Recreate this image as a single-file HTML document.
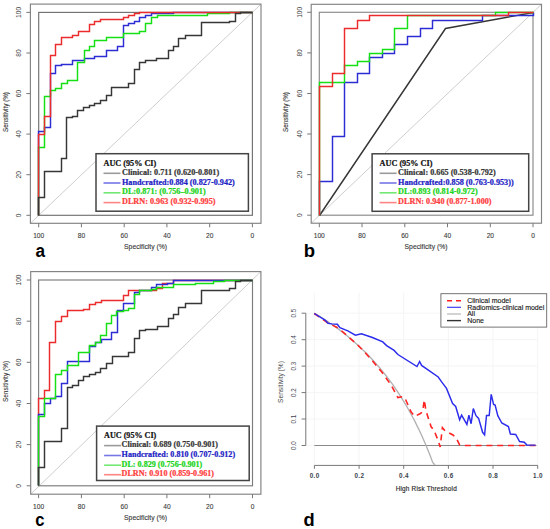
<!DOCTYPE html>
<html><head><meta charset="utf-8"><style>html,body{margin:0;padding:0;background:#fff;}svg{display:block;}</style></head>
<body><svg width="550" height="529" viewBox="0 0 550 529">
<rect width="550" height="529" fill="#fff"/>
<line x1="30.4" y1="223.3" x2="261.0" y2="4.1" stroke="#c8c8c8" stroke-width="0.9" />
<rect x="30.4" y="4.1" width="230.6" height="219.2" fill="none" stroke="#828282" stroke-width="1.15"/>
<rect x="38.7" y="12.4" width="213.7" height="202.9" fill="none" stroke="#707070" stroke-width="1.15"/>
<line x1="26.4" y1="215.3" x2="30.4" y2="215.3" stroke="#777" stroke-width="1.0" />
<text x="21.1" y="215.3" font-family="Liberation Sans" font-size="6.6" fill="#3a3a3a" text-anchor="middle" font-weight="normal" transform="rotate(-90 21.1 215.3)" >0</text>
<line x1="26.4" y1="174.7" x2="30.4" y2="174.7" stroke="#777" stroke-width="1.0" />
<text x="21.1" y="174.7" font-family="Liberation Sans" font-size="6.6" fill="#3a3a3a" text-anchor="middle" font-weight="normal" transform="rotate(-90 21.1 174.7)" >20</text>
<line x1="26.4" y1="134.1" x2="30.4" y2="134.1" stroke="#777" stroke-width="1.0" />
<text x="21.1" y="134.1" font-family="Liberation Sans" font-size="6.6" fill="#3a3a3a" text-anchor="middle" font-weight="normal" transform="rotate(-90 21.1 134.1)" >40</text>
<line x1="26.4" y1="93.6" x2="30.4" y2="93.6" stroke="#777" stroke-width="1.0" />
<text x="21.1" y="93.6" font-family="Liberation Sans" font-size="6.6" fill="#3a3a3a" text-anchor="middle" font-weight="normal" transform="rotate(-90 21.1 93.6)" >60</text>
<line x1="26.4" y1="53.0" x2="30.4" y2="53.0" stroke="#777" stroke-width="1.0" />
<text x="21.1" y="53.0" font-family="Liberation Sans" font-size="6.6" fill="#3a3a3a" text-anchor="middle" font-weight="normal" transform="rotate(-90 21.1 53.0)" >80</text>
<line x1="26.4" y1="12.4" x2="30.4" y2="12.4" stroke="#777" stroke-width="1.0" />
<text x="21.1" y="12.4" font-family="Liberation Sans" font-size="6.6" fill="#3a3a3a" text-anchor="middle" font-weight="normal" transform="rotate(-90 21.1 12.4)" >100</text>
<line x1="38.7" y1="223.3" x2="38.7" y2="227.3" stroke="#777" stroke-width="1.0" />
<text x="38.7" y="237.6" font-family="Liberation Sans" font-size="6.6" fill="#3a3a3a" text-anchor="middle" font-weight="normal" stroke="#3a3a3a" stroke-width="0.1">100</text>
<line x1="81.4" y1="223.3" x2="81.4" y2="227.3" stroke="#777" stroke-width="1.0" />
<text x="81.4" y="237.6" font-family="Liberation Sans" font-size="6.6" fill="#3a3a3a" text-anchor="middle" font-weight="normal" stroke="#3a3a3a" stroke-width="0.1">80</text>
<line x1="124.2" y1="223.3" x2="124.2" y2="227.3" stroke="#777" stroke-width="1.0" />
<text x="124.2" y="237.6" font-family="Liberation Sans" font-size="6.6" fill="#3a3a3a" text-anchor="middle" font-weight="normal" stroke="#3a3a3a" stroke-width="0.1">60</text>
<line x1="166.9" y1="223.3" x2="166.9" y2="227.3" stroke="#777" stroke-width="1.0" />
<text x="166.9" y="237.6" font-family="Liberation Sans" font-size="6.6" fill="#3a3a3a" text-anchor="middle" font-weight="normal" stroke="#3a3a3a" stroke-width="0.1">40</text>
<line x1="209.7" y1="223.3" x2="209.7" y2="227.3" stroke="#777" stroke-width="1.0" />
<text x="209.7" y="237.6" font-family="Liberation Sans" font-size="6.6" fill="#3a3a3a" text-anchor="middle" font-weight="normal" stroke="#3a3a3a" stroke-width="0.1">20</text>
<line x1="252.4" y1="223.3" x2="252.4" y2="227.3" stroke="#777" stroke-width="1.0" />
<text x="252.4" y="237.6" font-family="Liberation Sans" font-size="6.6" fill="#3a3a3a" text-anchor="middle" font-weight="normal" stroke="#3a3a3a" stroke-width="0.1">0</text>
<text x="7.6" y="112.0" font-family="Liberation Sans" font-size="6.3" fill="#333" text-anchor="middle" font-weight="normal" transform="rotate(-90 7.6 112.0)" stroke="#333" stroke-width="0.1">Sensitivity (%)</text>
<text x="145.6" y="249.3" font-family="Liberation Sans" font-size="6.8" fill="#333" text-anchor="middle" font-weight="normal" stroke="#333" stroke-width="0.1">Specificity (%)</text>
<polyline points="38.5,215.5 38.5,131.5 44.5,131.5 44.5,127.5 50.5,127.5 50.5,73.5 55.5,73.5 55.5,65.5 61.5,65.5 61.5,64.5 72.5,64.5 72.5,60.5 84.5,60.5 84.5,58.5 94.5,58.5 94.5,56.5 106.5,56.5 106.5,50.5 117.5,50.5 117.5,46.5 123.5,46.5 123.5,25.5 128.5,25.5 128.5,23.5 134.5,23.5 134.5,21.5 139.5,21.5 139.5,17.5 145.5,17.5 145.5,15.5 151.5,15.5 151.5,13.5 173.5,13.5 173.5,12.5 252.5,12.5" fill="none" stroke="#2c2cd4" stroke-width="1.45" stroke-linejoin="miter" />
<polyline points="38.5,215.5 38.5,147.5 44.5,147.5 44.5,96.5 50.5,96.5 50.5,90.5 55.5,90.5 55.5,88.5 61.5,88.5 61.5,83.5 67.5,83.5 67.5,80.5 77.5,80.5 77.5,62.5 84.5,62.5 84.5,50.5 89.5,50.5 89.5,46.5 94.5,46.5 94.5,40.5 106.5,40.5 106.5,37.5 123.5,37.5 123.5,33.5 139.5,33.5 139.5,31.5 145.5,31.5 145.5,23.5 151.5,23.5 151.5,17.5 157.5,17.5 157.5,15.5 207.5,15.5 207.5,13.5 229.5,13.5 229.5,12.5 252.5,12.5" fill="none" stroke="#14e014" stroke-width="1.45" stroke-linejoin="miter" />
<polyline points="38.5,215.5 38.5,134.5 44.5,134.5 44.5,116.5 50.5,116.5 50.5,55.5 55.5,55.5 55.5,44.5 61.5,44.5 61.5,37.5 72.5,37.5 72.5,35.5 78.5,35.5 78.5,31.5 89.5,31.5 89.5,24.5 94.5,24.5 94.5,21.5 100.5,21.5 100.5,19.5 123.5,19.5 123.5,17.5 128.5,17.5 128.5,15.5 134.5,15.5 134.5,13.5 139.5,13.5 139.5,12.5 252.5,12.5" fill="none" stroke="#ec2c2c" stroke-width="1.45" stroke-linejoin="miter" />
<polyline points="38.5,215.5 38.5,197.5 44.5,197.5 44.5,171.5 61.5,171.5 61.5,158.5 66.5,158.5 66.5,117.5 72.5,117.5 72.5,116.5 77.5,116.5 77.5,110.5 83.5,110.5 83.5,107.5 89.5,107.5 89.5,105.5 94.5,105.5 94.5,103.5 100.5,103.5 100.5,100.5 106.5,100.5 106.5,95.5 111.5,95.5 111.5,87.5 128.5,87.5 128.5,83.5 134.5,83.5 134.5,69.5 139.5,69.5 139.5,62.5 145.5,62.5 145.5,60.5 156.5,60.5 156.5,58.5 168.5,58.5 168.5,50.5 173.5,50.5 173.5,46.5 178.5,46.5 178.5,38.5 185.5,38.5 185.5,35.5 201.5,35.5 201.5,22.5 229.5,22.5 229.5,21.5 235.5,21.5 235.5,13.5 240.5,13.5 240.5,12.5 252.5,12.5" fill="none" stroke="#363636" stroke-width="1.45" stroke-linejoin="miter" />
<rect x="96.0" y="153.7" width="152.4" height="57.5" fill="white" stroke="#444" stroke-width="1.5"/>
<text x="103.5" y="165.5" font-family="Liberation Serif" font-size="8.2" fill="#111" text-anchor="start" font-weight="bold" stroke="#111" stroke-width="0.22">AUC (95% CI)</text>
<line x1="103.5" y1="173.3" x2="120.5" y2="173.3" stroke="#9a9a9a" stroke-width="1.6" />
<text x="122.0" y="174.9" font-family="Liberation Serif" font-size="8.2" fill="#363636" text-anchor="start" font-weight="bold" stroke="#363636" stroke-width="0.22">Clinical: 0.711 (0.620-0.801)</text>
<line x1="103.5" y1="183.0" x2="120.5" y2="183.0" stroke="#7676e6" stroke-width="1.6" />
<text x="122.0" y="184.6" font-family="Liberation Serif" font-size="8.2" fill="#1c1cc4" text-anchor="start" font-weight="bold" stroke="#1c1cc4" stroke-width="0.22">Handcrafted:0.884 (0.827-0.942)</text>
<line x1="103.5" y1="192.8" x2="120.5" y2="192.8" stroke="#74e874" stroke-width="1.6" />
<text x="122.0" y="194.4" font-family="Liberation Serif" font-size="8.2" fill="#18d418" text-anchor="start" font-weight="bold" stroke="#18d418" stroke-width="0.22">DL:0.871: (0.756–0.901)</text>
<line x1="103.5" y1="202.6" x2="120.5" y2="202.6" stroke="#ff8484" stroke-width="1.6" />
<text x="122.0" y="204.2" font-family="Liberation Serif" font-size="8.2" fill="#ff3c3c" text-anchor="start" font-weight="bold" stroke="#ff3c3c" stroke-width="0.22">DLRN: 0.963 (0.932-0.995)</text>
<text x="0" y="0" font-family="Liberation Sans" font-weight="bold" font-size="18.5" fill="#000" transform="translate(35.4 256.8) scale(0.93 1)">a</text>
<line x1="311.2" y1="223.2" x2="541.5" y2="4.3" stroke="#c8c8c8" stroke-width="0.9" />
<rect x="311.2" y="4.3" width="230.3" height="218.9" fill="none" stroke="#828282" stroke-width="1.15"/>
<rect x="319.3" y="12.3" width="213.7" height="202.9" fill="none" stroke="#8a8a8a" stroke-width="1.15"/>
<line x1="307.2" y1="215.2" x2="311.2" y2="215.2" stroke="#777" stroke-width="1.0" />
<text x="301.9" y="215.2" font-family="Liberation Sans" font-size="6.6" fill="#3a3a3a" text-anchor="middle" font-weight="normal" transform="rotate(-90 301.9 215.2)" >0</text>
<line x1="307.2" y1="174.6" x2="311.2" y2="174.6" stroke="#777" stroke-width="1.0" />
<text x="301.9" y="174.6" font-family="Liberation Sans" font-size="6.6" fill="#3a3a3a" text-anchor="middle" font-weight="normal" transform="rotate(-90 301.9 174.6)" >20</text>
<line x1="307.2" y1="134.0" x2="311.2" y2="134.0" stroke="#777" stroke-width="1.0" />
<text x="301.9" y="134.0" font-family="Liberation Sans" font-size="6.6" fill="#3a3a3a" text-anchor="middle" font-weight="normal" transform="rotate(-90 301.9 134.0)" >40</text>
<line x1="307.2" y1="93.5" x2="311.2" y2="93.5" stroke="#777" stroke-width="1.0" />
<text x="301.9" y="93.5" font-family="Liberation Sans" font-size="6.6" fill="#3a3a3a" text-anchor="middle" font-weight="normal" transform="rotate(-90 301.9 93.5)" >60</text>
<line x1="307.2" y1="52.9" x2="311.2" y2="52.9" stroke="#777" stroke-width="1.0" />
<text x="301.9" y="52.9" font-family="Liberation Sans" font-size="6.6" fill="#3a3a3a" text-anchor="middle" font-weight="normal" transform="rotate(-90 301.9 52.9)" >80</text>
<line x1="307.2" y1="12.3" x2="311.2" y2="12.3" stroke="#777" stroke-width="1.0" />
<text x="301.9" y="12.3" font-family="Liberation Sans" font-size="6.6" fill="#3a3a3a" text-anchor="middle" font-weight="normal" transform="rotate(-90 301.9 12.3)" >100</text>
<line x1="319.3" y1="223.2" x2="319.3" y2="227.2" stroke="#777" stroke-width="1.0" />
<text x="319.3" y="237.5" font-family="Liberation Sans" font-size="6.6" fill="#3a3a3a" text-anchor="middle" font-weight="normal" stroke="#3a3a3a" stroke-width="0.1">100</text>
<line x1="362.0" y1="223.2" x2="362.0" y2="227.2" stroke="#777" stroke-width="1.0" />
<text x="362.0" y="237.5" font-family="Liberation Sans" font-size="6.6" fill="#3a3a3a" text-anchor="middle" font-weight="normal" stroke="#3a3a3a" stroke-width="0.1">80</text>
<line x1="404.8" y1="223.2" x2="404.8" y2="227.2" stroke="#777" stroke-width="1.0" />
<text x="404.8" y="237.5" font-family="Liberation Sans" font-size="6.6" fill="#3a3a3a" text-anchor="middle" font-weight="normal" stroke="#3a3a3a" stroke-width="0.1">60</text>
<line x1="447.5" y1="223.2" x2="447.5" y2="227.2" stroke="#777" stroke-width="1.0" />
<text x="447.5" y="237.5" font-family="Liberation Sans" font-size="6.6" fill="#3a3a3a" text-anchor="middle" font-weight="normal" stroke="#3a3a3a" stroke-width="0.1">40</text>
<line x1="490.3" y1="223.2" x2="490.3" y2="227.2" stroke="#777" stroke-width="1.0" />
<text x="490.3" y="237.5" font-family="Liberation Sans" font-size="6.6" fill="#3a3a3a" text-anchor="middle" font-weight="normal" stroke="#3a3a3a" stroke-width="0.1">20</text>
<line x1="533.0" y1="223.2" x2="533.0" y2="227.2" stroke="#777" stroke-width="1.0" />
<text x="533.0" y="237.5" font-family="Liberation Sans" font-size="6.6" fill="#3a3a3a" text-anchor="middle" font-weight="normal" stroke="#3a3a3a" stroke-width="0.1">0</text>
<text x="288.4" y="112.0" font-family="Liberation Sans" font-size="6.3" fill="#333" text-anchor="middle" font-weight="normal" transform="rotate(-90 288.4 112.0)" stroke="#333" stroke-width="0.1">Sensitivity (%)</text>
<text x="426.1" y="249.2" font-family="Liberation Sans" font-size="6.8" fill="#333" text-anchor="middle" font-weight="normal" stroke="#333" stroke-width="0.1">Specificity (%)</text>
<polyline points="319.5,215.5 445.5,28.5 533.5,12.5" fill="none" stroke="#363636" stroke-width="1.45" stroke-linejoin="miter" />
<polyline points="319.5,215.5 319.5,181.5 332.5,181.5 332.5,136.5 344.5,136.5 344.5,82.5 357.5,82.5 357.5,73.5 369.5,73.5 369.5,57.5 382.5,57.5 382.5,53.5 394.5,53.5 394.5,44.5 407.5,44.5 407.5,36.5 420.5,36.5 420.5,28.5 432.5,28.5 432.5,20.5 482.5,20.5 482.5,15.5 533.5,15.5 533.5,12.5" fill="none" stroke="#2c2cd4" stroke-width="1.45" stroke-linejoin="miter" />
<polyline points="319.5,215.5 319.5,82.5 344.5,82.5 344.5,65.5 357.5,65.5 357.5,61.5 369.5,61.5 369.5,53.5 382.5,53.5 382.5,49.5 394.5,49.5 394.5,28.5 407.5,28.5 407.5,15.5 495.5,15.5 495.5,12.5 533.5,12.5" fill="none" stroke="#14e014" stroke-width="1.45" stroke-linejoin="miter" />
<polyline points="319.5,215.5 319.5,86.5 332.5,86.5 332.5,73.5 344.5,73.5 344.5,28.5 357.5,28.5 357.5,20.5 369.5,20.5 369.5,15.5 508.5,15.5 508.5,12.5 533.5,12.5" fill="none" stroke="#ec2c2c" stroke-width="1.45" stroke-linejoin="miter" />
<rect x="372.1" y="153.8" width="156.6" height="57.5" fill="white" stroke="#444" stroke-width="1.5"/>
<text x="379.6" y="165.5" font-family="Liberation Serif" font-size="8.2" fill="#111" text-anchor="start" font-weight="bold" stroke="#111" stroke-width="0.22">AUC (95% CI)</text>
<line x1="379.6" y1="173.3" x2="396.6" y2="173.3" stroke="#9a9a9a" stroke-width="1.6" />
<text x="398.1" y="174.9" font-family="Liberation Serif" font-size="8.2" fill="#363636" text-anchor="start" font-weight="bold" stroke="#363636" stroke-width="0.22">Clinical: 0.665 (0.538-0.792)</text>
<line x1="379.6" y1="183.0" x2="396.6" y2="183.0" stroke="#7676e6" stroke-width="1.6" />
<text x="398.1" y="184.6" font-family="Liberation Serif" font-size="8.2" fill="#1c1cc4" text-anchor="start" font-weight="bold" stroke="#1c1cc4" stroke-width="0.22">Handcrafted:0.858 (0.763-0.953))</text>
<line x1="379.6" y1="192.8" x2="396.6" y2="192.8" stroke="#74e874" stroke-width="1.6" />
<text x="398.1" y="194.4" font-family="Liberation Serif" font-size="8.2" fill="#18d418" text-anchor="start" font-weight="bold" stroke="#18d418" stroke-width="0.22">DL:0.893 (0.814-0.972)</text>
<line x1="379.6" y1="202.6" x2="396.6" y2="202.6" stroke="#ff8484" stroke-width="1.6" />
<text x="398.1" y="204.2" font-family="Liberation Serif" font-size="8.2" fill="#ff3c3c" text-anchor="start" font-weight="bold" stroke="#ff3c3c" stroke-width="0.22">DLRN: 0.940 (0.877-1.000)</text>
<text x="0" y="0" font-family="Liberation Sans" font-weight="bold" font-size="18.5" fill="#000" transform="translate(303.8 256.6) scale(1.0 1)">b</text>
<line x1="30.7" y1="494.2" x2="260.9" y2="271.6" stroke="#c8c8c8" stroke-width="0.9" />
<rect x="30.7" y="271.6" width="230.2" height="222.6" fill="none" stroke="#828282" stroke-width="1.15"/>
<rect x="38.6" y="280.0" width="213.9" height="205.8" fill="none" stroke="#7c7c7c" stroke-width="1.15"/>
<line x1="26.7" y1="485.8" x2="30.7" y2="485.8" stroke="#777" stroke-width="1.0" />
<text x="21.4" y="485.8" font-family="Liberation Sans" font-size="6.6" fill="#3a3a3a" text-anchor="middle" font-weight="normal" transform="rotate(-90 21.4 485.8)" >0</text>
<line x1="26.7" y1="444.6" x2="30.7" y2="444.6" stroke="#777" stroke-width="1.0" />
<text x="21.4" y="444.6" font-family="Liberation Sans" font-size="6.6" fill="#3a3a3a" text-anchor="middle" font-weight="normal" transform="rotate(-90 21.4 444.6)" >20</text>
<line x1="26.7" y1="403.5" x2="30.7" y2="403.5" stroke="#777" stroke-width="1.0" />
<text x="21.4" y="403.5" font-family="Liberation Sans" font-size="6.6" fill="#3a3a3a" text-anchor="middle" font-weight="normal" transform="rotate(-90 21.4 403.5)" >40</text>
<line x1="26.7" y1="362.3" x2="30.7" y2="362.3" stroke="#777" stroke-width="1.0" />
<text x="21.4" y="362.3" font-family="Liberation Sans" font-size="6.6" fill="#3a3a3a" text-anchor="middle" font-weight="normal" transform="rotate(-90 21.4 362.3)" >60</text>
<line x1="26.7" y1="321.2" x2="30.7" y2="321.2" stroke="#777" stroke-width="1.0" />
<text x="21.4" y="321.2" font-family="Liberation Sans" font-size="6.6" fill="#3a3a3a" text-anchor="middle" font-weight="normal" transform="rotate(-90 21.4 321.2)" >80</text>
<line x1="26.7" y1="280.0" x2="30.7" y2="280.0" stroke="#777" stroke-width="1.0" />
<text x="21.4" y="280.0" font-family="Liberation Sans" font-size="6.6" fill="#3a3a3a" text-anchor="middle" font-weight="normal" transform="rotate(-90 21.4 280.0)" >100</text>
<line x1="38.6" y1="494.2" x2="38.6" y2="498.2" stroke="#777" stroke-width="1.0" />
<text x="38.6" y="508.5" font-family="Liberation Sans" font-size="6.6" fill="#3a3a3a" text-anchor="middle" font-weight="normal" stroke="#3a3a3a" stroke-width="0.1">100</text>
<line x1="81.4" y1="494.2" x2="81.4" y2="498.2" stroke="#777" stroke-width="1.0" />
<text x="81.4" y="508.5" font-family="Liberation Sans" font-size="6.6" fill="#3a3a3a" text-anchor="middle" font-weight="normal" stroke="#3a3a3a" stroke-width="0.1">80</text>
<line x1="124.2" y1="494.2" x2="124.2" y2="498.2" stroke="#777" stroke-width="1.0" />
<text x="124.2" y="508.5" font-family="Liberation Sans" font-size="6.6" fill="#3a3a3a" text-anchor="middle" font-weight="normal" stroke="#3a3a3a" stroke-width="0.1">60</text>
<line x1="166.9" y1="494.2" x2="166.9" y2="498.2" stroke="#777" stroke-width="1.0" />
<text x="166.9" y="508.5" font-family="Liberation Sans" font-size="6.6" fill="#3a3a3a" text-anchor="middle" font-weight="normal" stroke="#3a3a3a" stroke-width="0.1">40</text>
<line x1="209.7" y1="494.2" x2="209.7" y2="498.2" stroke="#777" stroke-width="1.0" />
<text x="209.7" y="508.5" font-family="Liberation Sans" font-size="6.6" fill="#3a3a3a" text-anchor="middle" font-weight="normal" stroke="#3a3a3a" stroke-width="0.1">20</text>
<line x1="252.5" y1="494.2" x2="252.5" y2="498.2" stroke="#777" stroke-width="1.0" />
<text x="252.5" y="508.5" font-family="Liberation Sans" font-size="6.6" fill="#3a3a3a" text-anchor="middle" font-weight="normal" stroke="#3a3a3a" stroke-width="0.1">0</text>
<text x="7.9" y="381.5" font-family="Liberation Sans" font-size="6.5" fill="#333" text-anchor="middle" font-weight="normal" transform="rotate(-90 7.9 381.5)" stroke="#333" stroke-width="0.1">Sensitivity (%)</text>
<text x="145.6" y="520.2" font-family="Liberation Sans" font-size="6.8" fill="#333" text-anchor="middle" font-weight="normal" stroke="#333" stroke-width="0.1">Specificity (%)</text>
<polyline points="38.5,485.5 38.5,398.5 44.5,398.5 44.5,390.5 49.5,390.5 49.5,342.5 55.5,342.5 55.5,321.5 61.5,321.5 61.5,316.5 67.5,316.5 67.5,310.5 83.5,310.5 83.5,309.5 89.5,309.5 89.5,304.5 95.5,304.5 95.5,302.5 101.5,302.5 101.5,300.5 123.5,300.5 123.5,295.5 128.5,295.5 128.5,290.5 151.5,290.5 151.5,290.5 156.5,290.5 156.5,288.5 162.5,288.5 162.5,283.5 173.5,283.5 173.5,280.5 252.5,280.5" fill="none" stroke="#ec2c2c" stroke-width="1.45" stroke-linejoin="miter" />
<polyline points="38.5,485.5 38.5,414.5 44.5,414.5 44.5,403.5 50.5,403.5 50.5,398.5 55.5,398.5 55.5,396.5 61.5,396.5 61.5,383.5 67.5,383.5 67.5,361.5 89.5,361.5 89.5,346.5 95.5,346.5 95.5,342.5 101.5,342.5 101.5,339.5 111.5,339.5 111.5,332.5 117.5,332.5 117.5,310.5 123.5,310.5 123.5,303.5 134.5,303.5 134.5,292.5 139.5,292.5 139.5,290.5 151.5,290.5 151.5,287.5 156.5,287.5 156.5,284.5 167.5,284.5 167.5,283.5 173.5,283.5 173.5,280.5 185.5,280.5 185.5,280.5 252.5,280.5" fill="none" stroke="#2c2cd4" stroke-width="1.45" stroke-linejoin="miter" />
<polyline points="38.5,485.5 38.5,416.5 44.5,416.5 44.5,398.5 55.5,398.5 55.5,374.5 61.5,374.5 61.5,370.5 67.5,370.5 67.5,365.5 78.5,365.5 78.5,352.5 89.5,352.5 89.5,345.5 95.5,345.5 95.5,342.5 100.5,342.5 100.5,335.5 106.5,335.5 106.5,323.5 111.5,323.5 111.5,315.5 116.5,315.5 116.5,311.5 123.5,311.5 123.5,310.5 128.5,310.5 128.5,308.5 134.5,308.5 134.5,294.5 139.5,294.5 139.5,290.5 151.5,290.5 151.5,289.5 156.5,289.5 156.5,287.5 173.5,287.5 173.5,284.5 195.5,284.5 195.5,283.5 213.5,283.5 213.5,281.5 224.5,281.5 224.5,280.5 252.5,280.5" fill="none" stroke="#14e014" stroke-width="1.45" stroke-linejoin="miter" />
<polyline points="38.5,485.5 38.5,467.5 44.5,467.5 44.5,441.5 61.5,441.5 61.5,428.5 67.5,428.5 67.5,387.5 72.5,387.5 72.5,385.5 78.5,385.5 78.5,380.5 83.5,380.5 83.5,376.5 89.5,376.5 89.5,374.5 95.5,374.5 95.5,372.5 100.5,372.5 100.5,368.5 106.5,368.5 106.5,363.5 112.5,363.5 112.5,356.5 128.5,356.5 128.5,352.5 134.5,352.5 134.5,338.5 139.5,338.5 139.5,330.5 145.5,330.5 145.5,329.5 157.5,329.5 157.5,326.5 168.5,326.5 168.5,318.5 173.5,318.5 173.5,314.5 178.5,314.5 178.5,307.5 185.5,307.5 185.5,303.5 201.5,303.5 201.5,290.5 229.5,290.5 229.5,288.5 235.5,288.5 235.5,281.5 240.5,281.5 240.5,280.5 252.5,280.5" fill="none" stroke="#363636" stroke-width="1.45" stroke-linejoin="miter" />
<rect x="96.6" y="426.1" width="152.6" height="54.4" fill="white" stroke="#444" stroke-width="1.5"/>
<text x="104.1" y="437.5" font-family="Liberation Serif" font-size="8.1" fill="#111" text-anchor="start" font-weight="bold" stroke="#111" stroke-width="0.22">AUC (95% CI)</text>
<line x1="104.1" y1="445.6" x2="121.1" y2="445.6" stroke="#9a9a9a" stroke-width="1.6" />
<text x="121.6" y="447.2" font-family="Liberation Serif" font-size="8.1" fill="#363636" text-anchor="start" font-weight="bold" stroke="#363636" stroke-width="0.22">Clinical: 0.689 (0.750-0.901)</text>
<line x1="104.1" y1="455.5" x2="121.1" y2="455.5" stroke="#7676e6" stroke-width="1.6" />
<text x="121.6" y="457.1" font-family="Liberation Serif" font-size="8.1" fill="#1c1cc4" text-anchor="start" font-weight="bold" stroke="#1c1cc4" stroke-width="0.22">Handcrafted: 0.810 (0.707-0.912)</text>
<line x1="104.1" y1="465.2" x2="121.1" y2="465.2" stroke="#74e874" stroke-width="1.6" />
<text x="121.6" y="466.8" font-family="Liberation Serif" font-size="8.1" fill="#18d418" text-anchor="start" font-weight="bold" stroke="#18d418" stroke-width="0.22">DL: 0.829 (0.756-0.901)</text>
<line x1="104.1" y1="474.7" x2="121.1" y2="474.7" stroke="#ff8484" stroke-width="1.6" />
<text x="121.6" y="476.3" font-family="Liberation Serif" font-size="8.1" fill="#ff3c3c" text-anchor="start" font-weight="bold" stroke="#ff3c3c" stroke-width="0.22">DLRN: 0.910 (0.859-0.961)</text>
<text x="0" y="0" font-family="Liberation Sans" font-weight="bold" font-size="18.5" fill="#000" transform="translate(35.3 525.9) scale(0.9 1)">c</text>
<line x1="314.4" y1="292.7" x2="314.4" y2="465.0" stroke="#f4f4f4" stroke-width="0.9" />
<line x1="359.1" y1="292.7" x2="359.1" y2="465.0" stroke="#f4f4f4" stroke-width="0.9" />
<line x1="403.7" y1="292.7" x2="403.7" y2="465.0" stroke="#f4f4f4" stroke-width="0.9" />
<line x1="448.4" y1="292.7" x2="448.4" y2="465.0" stroke="#f4f4f4" stroke-width="0.9" />
<line x1="493.0" y1="292.7" x2="493.0" y2="465.0" stroke="#f4f4f4" stroke-width="0.9" />
<line x1="537.7" y1="292.7" x2="537.7" y2="465.0" stroke="#f4f4f4" stroke-width="0.9" />
<line x1="306.0" y1="445.5" x2="537.7" y2="445.5" stroke="#f4f4f4" stroke-width="0.9" />
<line x1="306.0" y1="419.0" x2="537.7" y2="419.0" stroke="#f4f4f4" stroke-width="0.9" />
<line x1="306.0" y1="392.6" x2="537.7" y2="392.6" stroke="#f4f4f4" stroke-width="0.9" />
<line x1="306.0" y1="366.1" x2="537.7" y2="366.1" stroke="#f4f4f4" stroke-width="0.9" />
<line x1="306.0" y1="339.7" x2="537.7" y2="339.7" stroke="#f4f4f4" stroke-width="0.9" />
<line x1="306.0" y1="313.2" x2="537.7" y2="313.2" stroke="#f4f4f4" stroke-width="0.9" />
<line x1="305.8" y1="313.2" x2="305.8" y2="445.5" stroke="#777" stroke-width="1.0" />
<line x1="301.6" y1="445.5" x2="305.8" y2="445.5" stroke="#777" stroke-width="1.0" />
<text x="295.6" y="445.5" font-family="Liberation Sans" font-size="6.3" fill="#445" text-anchor="middle" font-weight="normal" transform="rotate(-90 295.6 445.5)" >0.0</text>
<line x1="301.6" y1="419.0" x2="305.8" y2="419.0" stroke="#777" stroke-width="1.0" />
<text x="295.6" y="419.0" font-family="Liberation Sans" font-size="6.3" fill="#445" text-anchor="middle" font-weight="normal" transform="rotate(-90 295.6 419.0)" >0.1</text>
<line x1="301.6" y1="392.6" x2="305.8" y2="392.6" stroke="#777" stroke-width="1.0" />
<text x="295.6" y="392.6" font-family="Liberation Sans" font-size="6.3" fill="#445" text-anchor="middle" font-weight="normal" transform="rotate(-90 295.6 392.6)" >0.2</text>
<line x1="301.6" y1="366.1" x2="305.8" y2="366.1" stroke="#777" stroke-width="1.0" />
<text x="295.6" y="366.1" font-family="Liberation Sans" font-size="6.3" fill="#445" text-anchor="middle" font-weight="normal" transform="rotate(-90 295.6 366.1)" >0.3</text>
<line x1="301.6" y1="339.7" x2="305.8" y2="339.7" stroke="#777" stroke-width="1.0" />
<text x="295.6" y="339.7" font-family="Liberation Sans" font-size="6.3" fill="#445" text-anchor="middle" font-weight="normal" transform="rotate(-90 295.6 339.7)" >0.4</text>
<line x1="301.6" y1="313.2" x2="305.8" y2="313.2" stroke="#777" stroke-width="1.0" />
<text x="295.6" y="313.2" font-family="Liberation Sans" font-size="6.3" fill="#445" text-anchor="middle" font-weight="normal" transform="rotate(-90 295.6 313.2)" >0.5</text>
<line x1="314.4" y1="465.4" x2="537.7" y2="465.4" stroke="#777" stroke-width="1.0" />
<line x1="314.4" y1="465.4" x2="314.4" y2="468.8" stroke="#777" stroke-width="1.0" />
<text x="314.7" y="477.6" font-family="Liberation Sans" font-size="6.3" fill="#3a4450" text-anchor="middle" font-weight="bold" letter-spacing="0.4">0.0</text>
<line x1="359.1" y1="465.4" x2="359.1" y2="468.8" stroke="#777" stroke-width="1.0" />
<text x="359.4" y="477.6" font-family="Liberation Sans" font-size="6.3" fill="#3a4450" text-anchor="middle" font-weight="bold" letter-spacing="0.4">0.2</text>
<line x1="403.7" y1="465.4" x2="403.7" y2="468.8" stroke="#777" stroke-width="1.0" />
<text x="404.0" y="477.6" font-family="Liberation Sans" font-size="6.3" fill="#3a4450" text-anchor="middle" font-weight="bold" letter-spacing="0.4">0.4</text>
<line x1="448.4" y1="465.4" x2="448.4" y2="468.8" stroke="#777" stroke-width="1.0" />
<text x="448.7" y="477.6" font-family="Liberation Sans" font-size="6.3" fill="#3a4450" text-anchor="middle" font-weight="bold" letter-spacing="0.4">0.6</text>
<line x1="493.0" y1="465.4" x2="493.0" y2="468.8" stroke="#777" stroke-width="1.0" />
<text x="493.3" y="477.6" font-family="Liberation Sans" font-size="6.3" fill="#3a4450" text-anchor="middle" font-weight="bold" letter-spacing="0.4">0.8</text>
<line x1="537.7" y1="465.4" x2="537.7" y2="468.8" stroke="#777" stroke-width="1.0" />
<text x="538.0" y="477.6" font-family="Liberation Sans" font-size="6.3" fill="#3a4450" text-anchor="middle" font-weight="bold" letter-spacing="0.4">1.0</text>
<text x="426.3" y="491.3" font-family="Liberation Sans" font-size="6.4" fill="#282828" text-anchor="middle" font-weight="normal" letter-spacing="0.2" stroke="#282828" stroke-width="0.15">High Risk Threshold</text>
<text x="283.0" y="382.0" font-family="Liberation Sans" font-size="6.6" fill="#444" text-anchor="middle" font-weight="normal" transform="rotate(-90 283.0 382.0)" >Sensitivity (%)</text>
<line x1="314.4" y1="445.5" x2="536.4" y2="445.5" stroke="#8a8a8a" stroke-width="1.0" />
<polyline points="314.4,313.2 316.6,314.5 318.9,315.9 321.1,317.3 323.3,318.7 325.6,320.2 327.8,321.6 330.0,323.2 332.3,324.7 334.5,326.3 336.7,327.9 339.0,329.6 341.2,331.2 343.4,333.0 345.7,334.7 347.9,336.5 350.1,338.4 352.4,340.3 354.6,342.2 356.8,344.2 359.1,346.3 361.3,348.4 363.5,350.5 365.8,352.7 368.0,355.0 370.2,357.3 372.5,359.7 374.7,362.1 376.9,364.7 379.2,367.2 381.4,369.9 383.6,372.6 385.9,375.5 388.1,378.4 390.3,381.4 392.6,384.4 394.8,387.6 397.0,390.9 399.3,394.3 401.5,397.8 403.7,401.4 406.0,405.1 408.2,409.0 410.4,413.0 412.7,417.2 414.9,421.4 417.1,425.9 419.4,430.5 421.6,435.3 423.8,440.3 426.1,445.5 428.3,450.9 430.5,456.5 432.7,462.4 435.0,465.0" fill="none" stroke="#b0b0b0" stroke-width="1.3" stroke-linejoin="miter" />
<polyline points="314.2,313.5 328.0,323.0 338.4,328.1 348.8,337.1 357.3,344.7 363.9,351.3 372.4,360.8 381.8,372.1 391.3,385.3 397.9,397.6 402.7,396.7 405.0,398.2 411.0,411.8 414.8,416.4 419.9,413.8 422.6,411.8 424.3,399.9 425.9,410.5 431.2,427.0 433.8,429.7 438.5,441.6 440.2,446.9 442.4,427.7 445.1,431.0 453.0,435.0 456.3,438.3 459.6,444.9 462.0,445.5 535.5,445.5" fill="none" stroke="#ff2222" stroke-width="1.6" stroke-linejoin="miter" stroke-dasharray="6 4.8" stroke-linejoin="round"/>
<polyline points="314.2,313.5 325.1,320.1 328.0,323.3 331.7,323.9 337.4,324.3 339.9,327.7 347.8,330.9 355.4,335.2 361.4,333.7 372.4,337.5 382.8,341.9 386.6,345.6 394.1,350.4 397.9,354.5 417.0,366.5 419.6,361.5 421.6,365.4 438.2,377.0 442.0,382.3 446.5,388.4 452.6,403.5 455.7,406.5 459.6,419.8 461.6,415.1 466.9,424.4 468.9,415.1 471.1,423.7 473.3,408.5 476.0,415.7 478.6,418.4 482.6,432.3 484.6,434.9 486.5,415.5 489.2,415.5 491.2,394.3 493.6,404.5 495.1,405.1 497.8,415.7 501.8,423.0 508.4,426.6 510.4,434.0 515.7,434.5 519.6,441.5 524.3,442.2 526.9,445.1 535.5,445.1" fill="none" stroke="#2c2cec" stroke-width="1.45" stroke-linejoin="miter" stroke-linejoin="round"/>
<rect x="440.9" y="293.7" width="105.8" height="33.4" fill="white" stroke="#666" stroke-width="0.9"/>
<line x1="447.0" y1="300.7" x2="461.0" y2="300.7" stroke="#ff2020" stroke-width="1.4" stroke-dasharray="5 4"/>
<text x="467.2" y="303.1" font-family="Liberation Sans" font-size="7.0" fill="#151515" text-anchor="start" font-weight="normal" stroke="#151515" stroke-width="0.12">Clinical model</text>
<line x1="447.0" y1="307.3" x2="461.0" y2="307.3" stroke="#3030f0" stroke-width="1.1" />
<text x="467.2" y="309.7" font-family="Liberation Sans" font-size="7.0" fill="#151515" text-anchor="start" font-weight="normal" stroke="#151515" stroke-width="0.12">Radiomics-clinical model</text>
<line x1="447.0" y1="314.0" x2="461.0" y2="314.0" stroke="#c0c0c0" stroke-width="1.4" />
<text x="467.2" y="316.4" font-family="Liberation Sans" font-size="7.0" fill="#151515" text-anchor="start" font-weight="normal" stroke="#151515" stroke-width="0.12">All</text>
<line x1="447.0" y1="320.6" x2="461.0" y2="320.6" stroke="#333" stroke-width="1.4" />
<text x="467.2" y="323.0" font-family="Liberation Sans" font-size="7.0" fill="#151515" text-anchor="start" font-weight="normal" stroke="#151515" stroke-width="0.12">None</text>
<text x="0" y="0" font-family="Liberation Sans" font-weight="bold" font-size="18.3" fill="#000" transform="translate(303.6 525.6) scale(1.0 1)">d</text>
</svg></body></html>
